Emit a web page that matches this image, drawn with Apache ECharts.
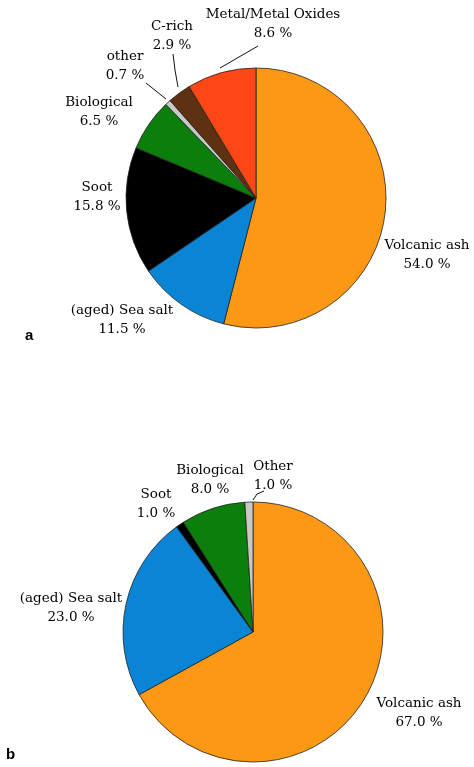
<!DOCTYPE html>
<html>
<head>
<meta charset="utf-8">
<script src="https://cdn.jsdelivr.net/npm/echarts@6/dist/echarts.min.js"></script>
<style>
  html, body { margin: 0; padding: 0; background: #fff; }
  #main { width: 474px; height: 767px; }
</style>
</head>
<body>
<div id="main"></div>
<script>
// panel a
const namesA = ["Volcanic ash", "(aged) Sea salt", "Soot", "Biological", "other", "C-rich", "Metal/Metal Oxides"];
const valuesA = [54.0, 11.5, 15.8, 6.5, 0.7, 2.9, 8.6];
// panel b
const namesB = ["Volcanic ash", "(aged) Sea salt", "Soot", "Biological", "Other"];
const valuesB = [67.0, 23.0, 1.0, 8.0, 1.0];

const colorsA = ["#FC9814", "#0A84D4", "#000000", "#0B7E0B", "#C9C9C9", "#5E3110", "#FF4616"];
const colorsB = ["#FC9814", "#0A84D4", "#000000", "#0B7E0B", "#C9C9C9"];

// label centres + optional leader lines
const labelsA = [
  { x: 427, y: 255 },
  { x: 122, y: 320 },
  { x: 97, y: 197 },
  { x: 99, y: 112 },
  { x: 125, y: 66, line: [[166, 99], [156, 91], [146, 83]] },
  { x: 172, y: 36, line: [[178, 87], [175, 70], [173, 54]] },
  { x: 273, y: 24, line: [[220, 68], [239, 57], [258, 46]] }
];
const labelsB = [
  { x: 419, y: 713 },
  { x: 71, y: 608 },
  { x: 156, y: 504 },
  { x: 210, y: 480 },
  { x: 273, y: 476, line: [[253, 500], [257, 494], [264, 491]] }
];

const fmt = (p) => p.name + "\n" + p.value.toFixed(1) + " %";

function pieSeries(names, values, colors, labels, center) {
  return {
    type: "pie",
    center: center,
    radius: 130,
    startAngle: 90,
    clockwise: true,
    avoidLabelOverlap: false,
    animation: false,
    itemStyle: { borderColor: "#222", borderWidth: 0.8 },
    label: {
      show: true,
      position: "outside",
      formatter: fmt,
      fontFamily: "DejaVu Serif",
      fontSize: 13.5,
      lineHeight: 19,
      color: "#000",
      align: "center"
    },
    labelLine: { show: true, lineStyle: { color: "#111", width: 1 }, smooth: false },
    labelLayout: (params) => {
      const l = labels[params.dataIndex];
      const out = { x: l.x, y: l.y, align: "center", verticalAlign: "middle" };
      out.labelLinePoints = l.line || [[l.x, l.y], [l.x, l.y], [l.x, l.y]];
      return out;
    },
    data: names.map((n, i) => ({
      name: n,
      value: values[i],
      itemStyle: { color: colors[i] },
      labelLine: { show: !!labels[i].line }
    }))
  };
}

const myChart = echarts.init(document.getElementById("main"));
myChart.setOption({
  backgroundColor: "#fff",
  series: [
    pieSeries(namesA, valuesA, colorsA, labelsA, [256, 198]),
    pieSeries(namesB, valuesB, colorsB, labelsB, [253, 632])
  ],
  graphic: [
    { type: "text", left: 25, top: 328, style: { text: "a", font: "bold 15px 'Liberation Sans'", fill: "#000" } },
    { type: "text", left: 6, top: 747, style: { text: "b", font: "bold 15px 'Liberation Sans'", fill: "#000" } }
  ]
});
</script>
</body>
</html>
